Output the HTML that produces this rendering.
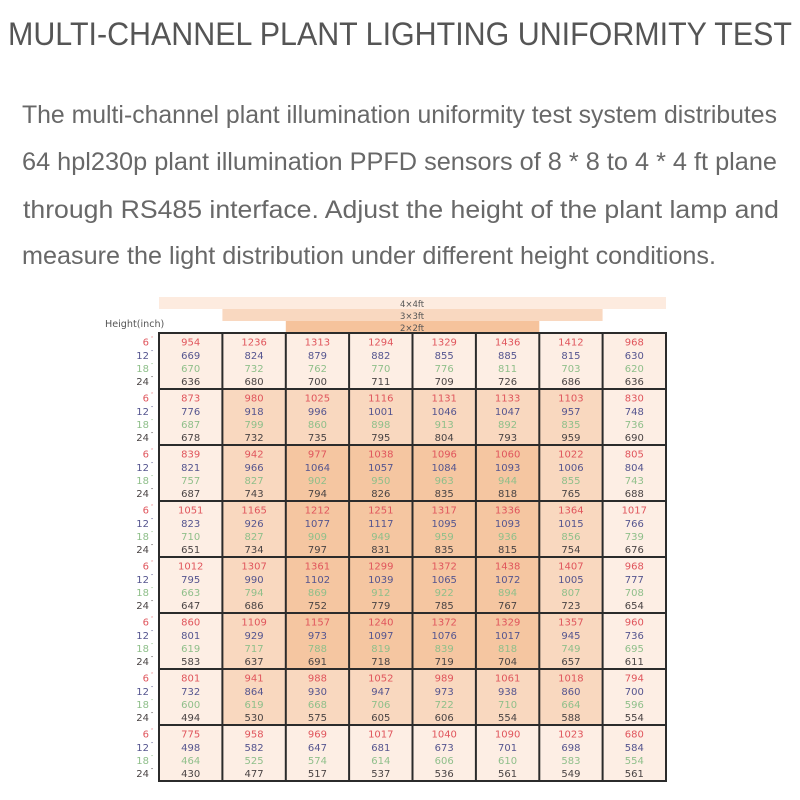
<!DOCTYPE html>
<html>
<head>
<meta charset="utf-8">
<style>
  html, body { margin:0; padding:0; background:#ffffff; }
  svg { display:block; }
  .t { font-family:"Liberation Sans", sans-serif; }
  .d { font-family:"DejaVu Sans", "Liberation Sans", sans-serif; font-size:10px; text-anchor:middle; }
  .r { fill:#e0555c; }
  .b { fill:#55558f; }
  .g { fill:#8fbf8a; }
  .k { fill:#4a4444; }
  .lab { font-family:"DejaVu Sans", "Liberation Sans", sans-serif; font-size:10px; text-anchor:end; }
  .mk { font-family:"DejaVu Sans", sans-serif; font-size:6px; }
</style>
</head>
<body>
<svg width="800" height="800" viewBox="0 0 800 800" xmlns="http://www.w3.org/2000/svg">
  <rect x="0" y="0" width="800" height="800" fill="#ffffff"/>

  <!-- Title -->
  <text class="t" x="8" y="45" font-size="32" fill="#555555" textLength="784" lengthAdjust="spacingAndGlyphs">MULTI-CHANNEL PLANT LIGHTING UNIFORMITY TEST</text>

  <!-- Paragraph -->
  <g class="t" font-size="25" fill="#686868">
    <text x="22" y="123" textLength="755" lengthAdjust="spacingAndGlyphs">The multi-channel plant illumination uniformity test system distributes</text>
    <text x="22" y="170" textLength="755" lengthAdjust="spacingAndGlyphs">64 hpl230p plant illumination PPFD sensors of 8 * 8 to 4 * 4 ft plane</text>
    <text x="23" y="218" textLength="756" lengthAdjust="spacingAndGlyphs">through RS485 interface. Adjust the height of the plant lamp and</text>
    <text x="22" y="264" textLength="694" lengthAdjust="spacingAndGlyphs">measure the light distribution under different height conditions.</text>
  </g>

  <!-- Header bars -->
  <rect x="159" y="297" width="507" height="12" fill="#fdebdf"/>
  <rect x="222.4" y="309" width="380.2" height="12" fill="#f9d8c0"/>
  <rect x="285.8" y="321" width="253.5" height="12" fill="#f6c39c"/>
  <g font-family="DejaVu Sans, Liberation Sans, sans-serif" font-size="8.5" fill="#555" text-anchor="middle">
    <text x="412" y="307">4×4ft</text>
    <text x="412" y="319">3×3ft</text>
    <text x="412" y="331">2×2ft</text>
  </g>
  <text x="105" y="327" font-family="DejaVu Sans, Liberation Sans, sans-serif" font-size="9.6" fill="#555">Height(inch)</text>

  <!-- Cell backgrounds -->
  <rect x="159" y="333" width="507" height="448" fill="#fdeee4"/>
  <rect x="222.4" y="389" width="380.2" height="336" fill="#f9d8bf"/>
  <rect x="285.8" y="445" width="253.5" height="224" fill="#f5c6a1"/>

  <!-- Grid -->
  <g stroke="#2b2b2b" stroke-width="2" fill="none">
    <rect x="159" y="333" width="507" height="448"/>
    <line x1="222.4" y1="333" x2="222.4" y2="781"/>
    <line x1="285.8" y1="333" x2="285.8" y2="781"/>
    <line x1="349.1" y1="333" x2="349.1" y2="781"/>
    <line x1="412.5" y1="333" x2="412.5" y2="781"/>
    <line x1="475.9" y1="333" x2="475.9" y2="781"/>
    <line x1="539.3" y1="333" x2="539.3" y2="781"/>
    <line x1="602.6" y1="333" x2="602.6" y2="781"/>
    <line x1="159" y1="389" x2="666" y2="389"/>
    <line x1="159" y1="445" x2="666" y2="445"/>
    <line x1="159" y1="501" x2="666" y2="501"/>
    <line x1="159" y1="557" x2="666" y2="557"/>
    <line x1="159" y1="613" x2="666" y2="613"/>
    <line x1="159" y1="669" x2="666" y2="669"/>
    <line x1="159" y1="725" x2="666" y2="725"/>
  </g>

  <!-- Row labels -->
  <g>
    <!-- r0 -->
    <text class="lab r" x="149" y="345.5">6</text><text class="mk r" x="151" y="341">″</text>
    <text class="lab b" x="149" y="359">12</text><text class="mk b" x="151" y="354.5">″</text>
    <text class="lab g" x="149" y="372">18</text><text class="mk g" x="151" y="367.5">″</text>
    <text class="lab k" x="149" y="385">24</text><text class="mk k" x="151" y="380.5">″</text>
    <!-- r1 -->
    <text class="lab r" x="149" y="401.5">6</text><text class="mk r" x="151" y="397">″</text>
    <text class="lab b" x="149" y="415">12</text><text class="mk b" x="151" y="410.5">″</text>
    <text class="lab g" x="149" y="428">18</text><text class="mk g" x="151" y="423.5">″</text>
    <text class="lab k" x="149" y="441">24</text><text class="mk k" x="151" y="436.5">″</text>
    <!-- r2 -->
    <text class="lab r" x="149" y="457.5">6</text><text class="mk r" x="151" y="453">″</text>
    <text class="lab b" x="149" y="471">12</text><text class="mk b" x="151" y="466.5">″</text>
    <text class="lab g" x="149" y="484">18</text><text class="mk g" x="151" y="479.5">″</text>
    <text class="lab k" x="149" y="497">24</text><text class="mk k" x="151" y="492.5">″</text>
    <!-- r3 -->
    <text class="lab r" x="149" y="513.5">6</text><text class="mk r" x="151" y="509">″</text>
    <text class="lab b" x="149" y="527">12</text><text class="mk b" x="151" y="522.5">″</text>
    <text class="lab g" x="149" y="540">18</text><text class="mk g" x="151" y="535.5">″</text>
    <text class="lab k" x="149" y="553">24</text><text class="mk k" x="151" y="548.5">″</text>
    <!-- r4 -->
    <text class="lab r" x="149" y="569.5">6</text><text class="mk r" x="151" y="565">″</text>
    <text class="lab b" x="149" y="583">12</text><text class="mk b" x="151" y="578.5">″</text>
    <text class="lab g" x="149" y="596">18</text><text class="mk g" x="151" y="591.5">″</text>
    <text class="lab k" x="149" y="609">24</text><text class="mk k" x="151" y="604.5">″</text>
    <!-- r5 -->
    <text class="lab r" x="149" y="625.5">6</text><text class="mk r" x="151" y="621">″</text>
    <text class="lab b" x="149" y="639">12</text><text class="mk b" x="151" y="634.5">″</text>
    <text class="lab g" x="149" y="652">18</text><text class="mk g" x="151" y="647.5">″</text>
    <text class="lab k" x="149" y="665">24</text><text class="mk k" x="151" y="660.5">″</text>
    <!-- r6 -->
    <text class="lab r" x="149" y="681.5">6</text><text class="mk r" x="151" y="677">″</text>
    <text class="lab b" x="149" y="695">12</text><text class="mk b" x="151" y="690.5">″</text>
    <text class="lab g" x="149" y="708">18</text><text class="mk g" x="151" y="703.5">″</text>
    <text class="lab k" x="149" y="721">24</text><text class="mk k" x="151" y="716.5">″</text>
    <!-- r7 -->
    <text class="lab r" x="149" y="737.5">6</text><text class="mk r" x="151" y="733">″</text>
    <text class="lab b" x="149" y="751">12</text><text class="mk b" x="151" y="746.5">″</text>
    <text class="lab g" x="149" y="764">18</text><text class="mk g" x="151" y="759.5">″</text>
    <text class="lab k" x="149" y="777">24</text><text class="mk k" x="151" y="772.5">″</text>
  </g>

  <!-- Data -->
  <g>
    <!-- Row 1 -->
    <text class="d r" y="345.5"><tspan x="190.7">954</tspan><tspan x="254.1">1236</tspan><tspan x="317.4">1313</tspan><tspan x="380.8">1294</tspan><tspan x="444.2">1329</tspan><tspan x="507.6">1436</tspan><tspan x="570.9">1412</tspan><tspan x="634.3">968</tspan></text>
    <text class="d b" y="359"><tspan x="190.7">669</tspan><tspan x="254.1">824</tspan><tspan x="317.4">879</tspan><tspan x="380.8">882</tspan><tspan x="444.2">855</tspan><tspan x="507.6">885</tspan><tspan x="570.9">815</tspan><tspan x="634.3">630</tspan></text>
    <text class="d g" y="372"><tspan x="190.7">670</tspan><tspan x="254.1">732</tspan><tspan x="317.4">762</tspan><tspan x="380.8">770</tspan><tspan x="444.2">776</tspan><tspan x="507.6">811</tspan><tspan x="570.9">703</tspan><tspan x="634.3">620</tspan></text>
    <text class="d k" y="385"><tspan x="190.7">636</tspan><tspan x="254.1">680</tspan><tspan x="317.4">700</tspan><tspan x="380.8">711</tspan><tspan x="444.2">709</tspan><tspan x="507.6">726</tspan><tspan x="570.9">686</tspan><tspan x="634.3">636</tspan></text>

    <!-- Row 2 -->
    <text class="d r" y="401.5"><tspan x="190.7">873</tspan><tspan x="254.1">980</tspan><tspan x="317.4">1025</tspan><tspan x="380.8">1116</tspan><tspan x="444.2">1131</tspan><tspan x="507.6">1133</tspan><tspan x="570.9">1103</tspan><tspan x="634.3">830</tspan></text>
    <text class="d b" y="415"><tspan x="190.7">776</tspan><tspan x="254.1">918</tspan><tspan x="317.4">996</tspan><tspan x="380.8">1001</tspan><tspan x="444.2">1046</tspan><tspan x="507.6">1047</tspan><tspan x="570.9">957</tspan><tspan x="634.3">748</tspan></text>
    <text class="d g" y="428"><tspan x="190.7">687</tspan><tspan x="254.1">799</tspan><tspan x="317.4">860</tspan><tspan x="380.8">898</tspan><tspan x="444.2">913</tspan><tspan x="507.6">892</tspan><tspan x="570.9">835</tspan><tspan x="634.3">736</tspan></text>
    <text class="d k" y="441"><tspan x="190.7">678</tspan><tspan x="254.1">732</tspan><tspan x="317.4">735</tspan><tspan x="380.8">795</tspan><tspan x="444.2">804</tspan><tspan x="507.6">793</tspan><tspan x="570.9">959</tspan><tspan x="634.3">690</tspan></text>

    <!-- Row 3 -->
    <text class="d r" y="457.5"><tspan x="190.7">839</tspan><tspan x="254.1">942</tspan><tspan x="317.4">977</tspan><tspan x="380.8">1038</tspan><tspan x="444.2">1096</tspan><tspan x="507.6">1060</tspan><tspan x="570.9">1022</tspan><tspan x="634.3">805</tspan></text>
    <text class="d b" y="471"><tspan x="190.7">821</tspan><tspan x="254.1">966</tspan><tspan x="317.4">1064</tspan><tspan x="380.8">1057</tspan><tspan x="444.2">1084</tspan><tspan x="507.6">1093</tspan><tspan x="570.9">1006</tspan><tspan x="634.3">804</tspan></text>
    <text class="d g" y="484"><tspan x="190.7">757</tspan><tspan x="254.1">827</tspan><tspan x="317.4">902</tspan><tspan x="380.8">950</tspan><tspan x="444.2">963</tspan><tspan x="507.6">944</tspan><tspan x="570.9">855</tspan><tspan x="634.3">743</tspan></text>
    <text class="d k" y="497"><tspan x="190.7">687</tspan><tspan x="254.1">743</tspan><tspan x="317.4">794</tspan><tspan x="380.8">826</tspan><tspan x="444.2">835</tspan><tspan x="507.6">818</tspan><tspan x="570.9">765</tspan><tspan x="634.3">688</tspan></text>

    <!-- Row 4 -->
    <text class="d r" y="513.5"><tspan x="190.7">1051</tspan><tspan x="254.1">1165</tspan><tspan x="317.4">1212</tspan><tspan x="380.8">1251</tspan><tspan x="444.2">1317</tspan><tspan x="507.6">1336</tspan><tspan x="570.9">1364</tspan><tspan x="634.3">1017</tspan></text>
    <text class="d b" y="527"><tspan x="190.7">823</tspan><tspan x="254.1">926</tspan><tspan x="317.4">1077</tspan><tspan x="380.8">1117</tspan><tspan x="444.2">1095</tspan><tspan x="507.6">1093</tspan><tspan x="570.9">1015</tspan><tspan x="634.3">766</tspan></text>
    <text class="d g" y="540"><tspan x="190.7">710</tspan><tspan x="254.1">827</tspan><tspan x="317.4">909</tspan><tspan x="380.8">949</tspan><tspan x="444.2">959</tspan><tspan x="507.6">936</tspan><tspan x="570.9">856</tspan><tspan x="634.3">739</tspan></text>
    <text class="d k" y="553"><tspan x="190.7">651</tspan><tspan x="254.1">734</tspan><tspan x="317.4">797</tspan><tspan x="380.8">831</tspan><tspan x="444.2">835</tspan><tspan x="507.6">815</tspan><tspan x="570.9">754</tspan><tspan x="634.3">676</tspan></text>

    <!-- Row 5 -->
    <text class="d r" y="569.5"><tspan x="190.7">1012</tspan><tspan x="254.1">1307</tspan><tspan x="317.4">1361</tspan><tspan x="380.8">1299</tspan><tspan x="444.2">1372</tspan><tspan x="507.6">1438</tspan><tspan x="570.9">1407</tspan><tspan x="634.3">968</tspan></text>
    <text class="d b" y="583"><tspan x="190.7">795</tspan><tspan x="254.1">990</tspan><tspan x="317.4">1102</tspan><tspan x="380.8">1039</tspan><tspan x="444.2">1065</tspan><tspan x="507.6">1072</tspan><tspan x="570.9">1005</tspan><tspan x="634.3">777</tspan></text>
    <text class="d g" y="596"><tspan x="190.7">663</tspan><tspan x="254.1">794</tspan><tspan x="317.4">869</tspan><tspan x="380.8">912</tspan><tspan x="444.2">922</tspan><tspan x="507.6">894</tspan><tspan x="570.9">807</tspan><tspan x="634.3">708</tspan></text>
    <text class="d k" y="609"><tspan x="190.7">647</tspan><tspan x="254.1">686</tspan><tspan x="317.4">752</tspan><tspan x="380.8">779</tspan><tspan x="444.2">785</tspan><tspan x="507.6">767</tspan><tspan x="570.9">723</tspan><tspan x="634.3">654</tspan></text>

    <!-- Row 6 -->
    <text class="d r" y="625.5"><tspan x="190.7">860</tspan><tspan x="254.1">1109</tspan><tspan x="317.4">1157</tspan><tspan x="380.8">1240</tspan><tspan x="444.2">1372</tspan><tspan x="507.6">1329</tspan><tspan x="570.9">1357</tspan><tspan x="634.3">960</tspan></text>
    <text class="d b" y="639"><tspan x="190.7">801</tspan><tspan x="254.1">929</tspan><tspan x="317.4">973</tspan><tspan x="380.8">1097</tspan><tspan x="444.2">1076</tspan><tspan x="507.6">1017</tspan><tspan x="570.9">945</tspan><tspan x="634.3">736</tspan></text>
    <text class="d g" y="652"><tspan x="190.7">619</tspan><tspan x="254.1">717</tspan><tspan x="317.4">788</tspan><tspan x="380.8">819</tspan><tspan x="444.2">839</tspan><tspan x="507.6">818</tspan><tspan x="570.9">749</tspan><tspan x="634.3">695</tspan></text>
    <text class="d k" y="665"><tspan x="190.7">583</tspan><tspan x="254.1">637</tspan><tspan x="317.4">691</tspan><tspan x="380.8">718</tspan><tspan x="444.2">719</tspan><tspan x="507.6">704</tspan><tspan x="570.9">657</tspan><tspan x="634.3">611</tspan></text>

    <!-- Row 7 -->
    <text class="d r" y="681.5"><tspan x="190.7">801</tspan><tspan x="254.1">941</tspan><tspan x="317.4">988</tspan><tspan x="380.8">1052</tspan><tspan x="444.2">989</tspan><tspan x="507.6">1061</tspan><tspan x="570.9">1018</tspan><tspan x="634.3">794</tspan></text>
    <text class="d b" y="695"><tspan x="190.7">732</tspan><tspan x="254.1">864</tspan><tspan x="317.4">930</tspan><tspan x="380.8">947</tspan><tspan x="444.2">973</tspan><tspan x="507.6">938</tspan><tspan x="570.9">860</tspan><tspan x="634.3">700</tspan></text>
    <text class="d g" y="708"><tspan x="190.7">600</tspan><tspan x="254.1">619</tspan><tspan x="317.4">668</tspan><tspan x="380.8">706</tspan><tspan x="444.2">722</tspan><tspan x="507.6">710</tspan><tspan x="570.9">664</tspan><tspan x="634.3">596</tspan></text>
    <text class="d k" y="721"><tspan x="190.7">494</tspan><tspan x="254.1">530</tspan><tspan x="317.4">575</tspan><tspan x="380.8">605</tspan><tspan x="444.2">606</tspan><tspan x="507.6">554</tspan><tspan x="570.9">588</tspan><tspan x="634.3">554</tspan></text>

    <!-- Row 8 -->
    <text class="d r" y="737.5"><tspan x="190.7">775</tspan><tspan x="254.1">958</tspan><tspan x="317.4">969</tspan><tspan x="380.8">1017</tspan><tspan x="444.2">1040</tspan><tspan x="507.6">1090</tspan><tspan x="570.9">1023</tspan><tspan x="634.3">680</tspan></text>
    <text class="d b" y="751"><tspan x="190.7">498</tspan><tspan x="254.1">582</tspan><tspan x="317.4">647</tspan><tspan x="380.8">681</tspan><tspan x="444.2">673</tspan><tspan x="507.6">701</tspan><tspan x="570.9">698</tspan><tspan x="634.3">584</tspan></text>
    <text class="d g" y="764"><tspan x="190.7">464</tspan><tspan x="254.1">525</tspan><tspan x="317.4">574</tspan><tspan x="380.8">614</tspan><tspan x="444.2">606</tspan><tspan x="507.6">610</tspan><tspan x="570.9">583</tspan><tspan x="634.3">554</tspan></text>
    <text class="d k" y="777"><tspan x="190.7">430</tspan><tspan x="254.1">477</tspan><tspan x="317.4">517</tspan><tspan x="380.8">537</tspan><tspan x="444.2">536</tspan><tspan x="507.6">561</tspan><tspan x="570.9">549</tspan><tspan x="634.3">561</tspan></text>
  </g>
</svg>
</body>
</html>
